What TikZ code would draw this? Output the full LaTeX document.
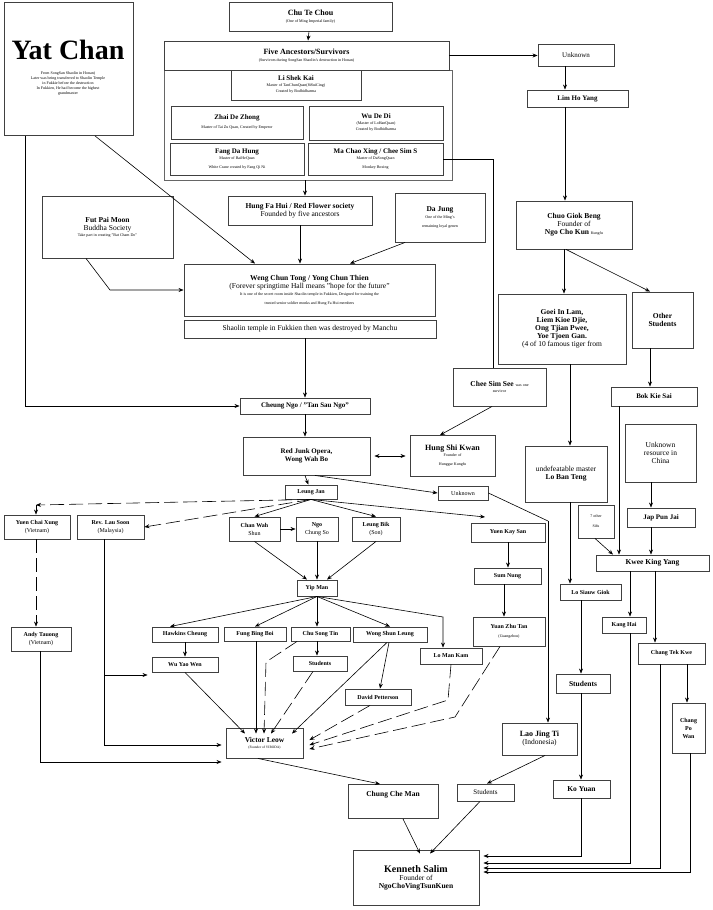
\documentclass[tikz,border=0pt]{standalone}
\usepackage{fontspec}
\setmainfont{Liberation Serif}
\usetikzlibrary{arrows.meta, positioning, calc}

\begin{document}
\begin{tikzpicture}[
        x=1pt, y=-1pt,
        font=\fontsize{7}{8}\selectfont,
        box/.style={draw=black!75, line width=0.9pt, fill=white, align=center, inner sep=1pt},
        tiny/.style={font=\fontsize{4}{5}\selectfont},
        line/.style={-{Stealth[length=5pt,width=4pt]}, line width=0.6pt},
        dline/.style={line, dash pattern=on 14pt off 5pt},
        wire/.style={line width=0.6pt}
    ]
    \useasboundingbox (0,0) rectangle (712,910);

    % Top: Yat Chan and the five ancestors
    \node[box, minimum width=129, minimum height=133, anchor=north west] (yat) at (4,2) {};
    \node at (68,50) {\fontsize{28}{30}\selectfont\bfseries Yat Chan};
    \node[tiny, align=center] (yattxt) at (68,84) {From SongSan Shaolin in Honan)\\Later was being transferred to Shaolin Temple\\in Fukkie before the destruction\\In Fukkien, He had become the highest\\grandmaster};

    \node[box, minimum width=163, minimum height=29] (chu) at (310.5,16.5) {\textbf{\fontsize{8}{9}\selectfont Chu Te Chou}\\[-1pt]{\fontsize{4}{5}\selectfont (One of Ming Imperial family)}};
    \draw[draw=black!60, line width=0.9pt] (164,70) rectangle (452,180);
    \node[box, minimum width=285, minimum height=29] (five) at (306.5,55.5) {\textbf{\fontsize{8}{9}\selectfont Five Ancestors/Survivors}\\[-1pt]{\fontsize{4}{5}\selectfont (Survivors during SongSan Shaolin's destruction in Honan)}};
    \node[box, minimum width=130, minimum height=30] (li) at (296,85) {\textbf{Li Shek Kai}\\[-2pt]{\fontsize{4}{5}\selectfont Master of TanChunQuan(8iSuiCing)}\\[-2pt]{\fontsize{4}{5}\selectfont Created by Bodhidharma}};
    \node[box, minimum width=132, minimum height=33] (zhai) at (237,122.5) {\textbf{Zhai De Zhong}\\[1pt]{\fontsize{4}{5}\selectfont Master of Tai Zu Quan, Created by Emperor}};
    \node[box, minimum width=134, minimum height=34] (wu) at (376,123) {\textbf{Wu De Di}\\[-2pt]{\fontsize{4}{5}\selectfont (Master of LoHanQuan)}\\[-2pt]{\fontsize{4}{5}\selectfont Created by Bodhidharma}};
    \node[box, minimum width=134, minimum height=32] (fang) at (237,159) {\textbf{Fang Da Hung}\\[-2pt]{\fontsize{4}{5}\selectfont Master of BaiHeQuan}\\[1pt]{\fontsize{4}{5}\selectfont White Crane created by Fang Qi Ni}};
    \node[box, minimum width=135, minimum height=32] (ma) at (375.5,159) {\textbf{Ma Chao Xing / Chee Sim S}\\[-2pt]{\fontsize{4}{5}\selectfont Master of DaSongQuan}\\[1pt]{\fontsize{4}{5}\selectfont Monkey Boxing}};

    % Middle: societies and the hall
    \node[box, minimum width=144, minimum height=29] (hung) at (300,210.5) {\textbf{\fontsize{7.5}{9}\selectfont Hung Fa Hui / Red Flower society}\\\fontsize{7.5}{9}\selectfont Founded by five ancestors};
    \node[box, minimum width=90, minimum height=49] (dajung) at (440,217.5) {\textbf{\fontsize{7.5}{9}\selectfont Da Jung}\\[-1pt]{\fontsize{4}{5}\selectfont One of the Ming's}\\[1pt]{\fontsize{4}{5}\selectfont remaining loyal genen}};
    \node[box, minimum width=131, minimum height=62] (fut) at (107.5,227) {\textbf{\fontsize{7.5}{9}\selectfont Fut Pai Moon}\\\fontsize{7.5}{9}\selectfont Buddha Society\\[-2pt]{\fontsize{4}{5}\selectfont Take part in creating "Bat Cham Do"}};
    \node[box, minimum width=251, minimum height=52] (weng) at (309.5,290) {\textbf{\fontsize{7.5}{9}\selectfont Weng Chun Tong / Yong Chun Thien}\\\fontsize{7.5}{9}\selectfont (Forever springtime Hall means "hope for the future"\\[-1pt]{\fontsize{4}{5}\selectfont It is one of the secret room inside Shaolin temple in Fukkien, Designed for training the}\\[1pt]{\fontsize{4}{5}\selectfont trusted senior soldier monks and Hung Fa Hui members}};
    \node[box, minimum width=252, minimum height=18] (shao) at (310,329) {\fontsize{7.5}{9}\selectfont Shaolin temple in Fukkien then was destroyed by Manchu};
    \node[box, minimum width=130, minimum height=16] (cheung) at (305,406) {\textbf{Cheung Ngo / "Tan Sau Ngo"}};
    \node[box, minimum width=93, minimum height=38] (chee) at (499.5,387) {\textbf{\fontsize{7.5}{9}\selectfont Chee Sim See} {\fontsize{4}{5}\selectfont was one}\\[-2pt]{\fontsize{4}{5}\selectfont survivor}};
    \node[box, minimum width=127, minimum height=38] (red) at (306.5,456) {\textbf{Red Junk Opera,}\\\textbf{Wong Wah Bo}};
    \node[box, minimum width=85, minimum height=41] (hsk) at (452.5,456) {\textbf{\fontsize{8}{9}\selectfont Hung Shi Kwan}\\[-2pt]{\fontsize{4}{5}\selectfont Founder of}\\[1pt]{\fontsize{4}{5}\selectfont Hunggar Kungfu}};

    % Right column
    \node[box, minimum width=76, minimum height=22] (unk1) at (576,55) {Unknown};
    \node[box, minimum width=101, minimum height=17] (lim) at (577.5,98.5) {\textbf{Lim Ho Yang}};
    \node[box, minimum width=116, minimum height=48] (chuo) at (574,225) {\textbf{\fontsize{7.5}{9}\selectfont Chuo Giok Beng}\\\fontsize{7.5}{9}\selectfont Founder of\\\textbf{\fontsize{7.5}{9}\selectfont Ngo Cho Kun} {\fontsize{4}{5}\selectfont Kungfu}};
    \node[box, minimum width=128, minimum height=70] (goei) at (562,329) {\bfseries\fontsize{7.5}{9}\selectfont Goei In Lam,\\\bfseries\fontsize{7.5}{9}\selectfont Liem Kioe Djie,\\\bfseries\fontsize{7.5}{9}\selectfont Ong Tjian Pwee,\\\bfseries\fontsize{7.5}{9}\selectfont Yoe Tjoen Gan.\\\fontsize{7.5}{9}\selectfont (4 of 10 famous tiger from};
    \node[box, minimum width=61, minimum height=56] (other) at (662.5,320) {\textbf{\fontsize{7.5}{9}\selectfont Other}\\\textbf{\fontsize{7.5}{9}\selectfont Students}};
    \node[box, minimum width=86, minimum height=19] (bok) at (654,396.5) {\textbf{Bok Kie Sai}};
    \node[box, minimum width=71, minimum height=58] (unkres) at (660.5,453) {\fontsize{7.5}{9}\selectfont Unknown\\\fontsize{7.5}{9}\selectfont resource in\\\fontsize{7.5}{9}\selectfont China};
    \node[box, minimum width=82, minimum height=56] (loban) at (566,474) {\fontsize{7.5}{9}\selectfont undefeatable master\\\textbf{\fontsize{7.5}{9}\selectfont Lo Ban Teng}};
    \node[box, minimum width=36, minimum height=33] (sifu) at (596,521.5) {\fontsize{4}{5}\selectfont 7 other\\[2pt]\fontsize{4}{5}\selectfont Sifu};
    \node[box, minimum width=68, minimum height=19] (jap) at (661,517.5) {\textbf{Jap Pun Jai}};
    \node[box, minimum width=113, minimum height=16] (kwee) at (652.5,563) {\textbf{\fontsize{7.5}{9}\selectfont Kwee King Yang}};
    \node[box, minimum width=61, minimum height=16] (losiauw) at (590.5,592) {\textbf{\fontsize{6}{7}\selectfont Lo Siauw Giok}};
    \node[box, minimum width=44, minimum height=16] (kang) at (624,625) {\textbf{\fontsize{6}{7}\selectfont Kang Hai}};
    \node[box, minimum width=67, minimum height=21] (tek) at (671.5,653.5) {\textbf{\fontsize{6}{7}\selectfont Chang Tek Kwe}};
    \node[box, minimum width=54, minimum height=19] (stud3) at (583,683.5) {\textbf{\fontsize{7.5}{9}\selectfont Students}};
    \node[box, minimum width=33, minimum height=50] (powan) at (688.5,728) {\bfseries\fontsize{6}{8}\selectfont Chang\\\bfseries\fontsize{6}{8}\selectfont Po\\\bfseries\fontsize{6}{8}\selectfont Wan};
    \node[box, minimum width=57, minimum height=18] (koyuan) at (581.5,789) {\textbf{\fontsize{7.5}{9}\selectfont Ko Yuan}};

    % Lower tree
    \node[box, minimum width=52, minimum height=14] (leung) at (311,492) {\textbf{\fontsize{6}{7}\selectfont Leung Jan}};
    \node[box, minimum width=50, minimum height=14] (unk2) at (463,493) {\fontsize{6}{7}\selectfont Unknown};
    \node[box, minimum width=66, minimum height=24] (ycx) at (37,527) {\textbf{\fontsize{6}{7}\selectfont Yuen Chai Xung}\\\fontsize{6}{7}\selectfont (Vietnam)};
    \node[box, minimum width=67, minimum height=24] (lau) at (110.5,527) {\textbf{\fontsize{6}{7}\selectfont Rev. Lau Soon}\\\fontsize{6}{7}\selectfont (Malaysia)};
    \node[box, minimum width=51, minimum height=24] (chan) at (254.5,529) {\textbf{\fontsize{6}{7}\selectfont Chan Wah}\\\fontsize{6}{7}\selectfont Shun};
    \node[box, minimum width=42, minimum height=24] (ngo) at (317,529) {\textbf{\fontsize{6}{7}\selectfont Ngo}\\\fontsize{6}{7}\selectfont Chung So};
    \node[box, minimum width=48, minimum height=24] (bik) at (376,529) {\textbf{\fontsize{6}{7}\selectfont Leung Bik}\\\fontsize{6}{7}\selectfont (Son)};
    \node[box, minimum width=74, minimum height=19] (kay) at (508,532.5) {\textbf{\fontsize{6}{7}\selectfont Yuen Kay San}};
    \node[box, minimum width=67, minimum height=16] (sum) at (507.5,576) {\textbf{\fontsize{6}{7}\selectfont Sum Nung}};
    \node[box, minimum width=40, minimum height=16] (yip) at (317,588) {\textbf{\fontsize{6}{7}\selectfont Yip Man}};
    \node[box, minimum width=66, minimum height=15] (hawk) at (185,634.5) {\textbf{\fontsize{6}{7}\selectfont Hawkins Cheung}};
    \node[box, minimum width=62, minimum height=14] (fung) at (255,634) {\textbf{\fontsize{6}{7}\selectfont Fung Bing Boi}};
    \node[box, minimum width=59, minimum height=14] (csong) at (320.5,634) {\textbf{\fontsize{6}{7}\selectfont Chu Song Tin}};
    \node[box, minimum width=74, minimum height=15] (wong) at (390,634.5) {\textbf{\fontsize{6}{7}\selectfont Wong Shun Leung}};
    \node[box, minimum width=72, minimum height=29] (yuan) at (509,631.5) {\textbf{\fontsize{6}{7}\selectfont Yuan Zhu Tan}\\[1pt]{\fontsize{4}{5}\selectfont (Guangzhou)}};
    \node[box, minimum width=62, minimum height=16] (loman) at (451,656) {\textbf{\fontsize{6}{7}\selectfont Lo Man Kam}};
    \node[box, minimum width=66, minimum height=15] (wuyao) at (185,664.5) {\textbf{\fontsize{6}{7}\selectfont Wu Yao Wen}};
    \node[box, minimum width=54, minimum height=15] (stud1) at (320,663.5) {\textbf{\fontsize{6}{7}\selectfont Students}};
    \node[box, minimum width=66, minimum height=16] (david) at (378,697) {\textbf{\fontsize{6}{7}\selectfont David Petterson}};
    \node[box, minimum width=60, minimum height=24] (andy) at (41,639) {\textbf{\fontsize{6}{7}\selectfont Andy Tauong}\\\fontsize{6}{7}\selectfont (Vietnam)};
    \node[box, minimum width=77, minimum height=30] (victor) at (264.5,743) {\textbf{\fontsize{7.5}{9}\selectfont Victor Leow}\\[-2pt]{\fontsize{3.5}{4}\selectfont (Founder of VIRODA)}};
    \node[box, minimum width=75, minimum height=32] (lao) at (539.5,739) {\textbf{\fontsize{8}{9}\selectfont Lao Jing Ti}\\\fontsize{7.5}{9}\selectfont (Indonesia)};
    \node[box, minimum width=90, minimum height=34, anchor=north] (ccm) at (393,784) {\textbf{\fontsize{7.5}{9}\selectfont Chung Che Man}\\[8pt]};
    \node[box, minimum width=57, minimum height=17] (stud2) at (485.5,792.5) {\fontsize{7}{8}\selectfont Students};
    \node[box, minimum width=126, minimum height=55] (ken) at (416,877.5) {\textbf{\fontsize{10}{12}\selectfont Kenneth Salim}\\\fontsize{7.5}{9}\selectfont Founder of\\\textbf{\fontsize{7.5}{9}\selectfont NgoChoVingTsunKuen}};

    % Arrows: top part
    \draw[line] (chu) -- (five);
    \draw[line] (305,180) -- (hung.north -| 305,0);
    \draw[line] (five.east) -- (unk1.west |- five.east);
    \draw[line] (unk1.south -| 565,0) -- (lim.north -| 565,0);
    \draw[line] (lim.south -| 565,0) -- (chuo.north -| 565,0);
    \draw[wire] (ma.east) -| (chee.north -| 493,0);
    \draw[line] (yat.south -| 95,0) -- (weng.north -| 255,0);
    \draw[line] (yat.south -| 25,0) |- (cheung.west);
    \draw[line] (fut.south -| 86,0) -- (110,290) -- (weng.west);
    \draw[line] (hung) -- (weng.north -| 300,0);
    \draw[line] (dajung.south -| 405,0) -- (weng.north -| 350,0);
    \draw[line] (shao.south -| 305,0) -- (cheung.north -| 305,0);
    \draw[line] (cheung) -- (red.north -| 305,0);
    \draw[line] (chee.south -| 492,0) -- (hsk.north -| 440,0);
    \draw[{Stealth[length=5pt,width=4pt]}-{Stealth[length=5pt,width=4pt]}, line width=0.6pt] ([xshift=4]red.east) -- ([xshift=-4]hsk.west);
    \draw[line] (red.south -| 305,0) -- (leung);
    \draw[line] (red.south -| 315,0) -- (unk2.west);
    \draw[wire] (unk2.east) -- (548,521) coordinate (bend);
    \draw[line] (bend) -- (lao.north -| 548,0);

    % Arrows: right column
    \draw[line] (chuo.south -| 564,0) -- (goei.north -| 564,0);
    \draw[line] (chuo.south -| 566,0) -- (other.north -| 650,0);
    \draw[line] (other.south -| 650,0) -- (bok.north -| 650,0);
    \draw[line] (goei.south -| 570,0) -- (loban.north -| 570,0);
    \draw[line] (loban.south -| 570,0) -- (losiauw.north -| 570,0);
    \draw[line] (bok.south -| 619,0) -- (kwee.north -| 619,0);
    \draw[line] (unkres.south -| 651,0) -- (jap.north -| 651,0);
    \draw[line] (jap.south -| 651,0) -- (kwee.north -| 651,0);
    \draw[line] (sifu.south -| 595,0) -- ([xshift=-2]kwee.north -| 615,0);
    \draw[line] (kwee.south -| 630,0) -- (kang.north -| 630,0);
    \draw[line] (kwee.south -| 655,0) -- (tek.north -| 655,0);
    \draw[line] (tek.south -| 687,0) -- (powan.north -| 687,0);
    \draw[line] (losiauw.south -| 581,0) -- (stud3.north -| 581,0);
    \draw[line] (stud3.south -| 581,0) -- (koyuan.north -| 581,0);
    \draw[line] (koyuan.south -| 581,0) |- ([xshift=4]ken.east |- 0,856);
    \draw[line] (kang.south -| 630,0) |- ([xshift=4]ken.east |- 0,863);
    \draw[line] (tek.south -| 660,0) |- ([xshift=4]ken.east |- 0,868);
    \draw[line] (powan.south -| 690,0) |- ([xshift=4]ken.east |- 0,872);

    % Arrows: Leung Jan's line
    \draw[dline] (leung.south) -- (36,505) coordinate (ycxtop);
    \draw[line] (ycxtop) -- (ycx.north -| 36,0);
    \draw[dline] (leung.south) -- (lau.east);
    \draw[line] (leung.south) -- (chan.north);
    \draw[line] (leung.south) -- (bik.north);
    \draw[line] (leung.south) -- (485,517);
    \draw[line] (chan) -- (ngo);
    \draw[line] (chan.south) -- (yip.north -| 307,0);
    \draw[line] (ngo) -- (yip);
    \draw[line] (bik.south) -- (yip.north -| 327,0);
    \draw[line] (kay.south -| 508,0) -- (sum.north -| 508,0);
    \draw[line] (sum.south -| 504,0) -- (yuan.north -| 504,0);
    \draw[dline] (ycx.south -| 36,0) -- (andy.north -| 36,0);
    \draw[line] (andy.south -| 40,0) |- ([xshift=-4]victor.west |- 0,762);
    \draw[line] (lau.south -| 104,0) |- ([xshift=-4]victor.west |- 0,745);
    \draw[line] (104,675) -- ([xshift=-4]wuyao.west |- 0,675);

    % Arrows: Yip Man's students
    \draw[line] (yip.south) -- (hawk.north -| 170,0);
    \draw[line] (yip.south) -- (fung.north);
    \draw[line] (yip.south) -- (csong.north -| 317,0);
    \draw[line] (yip.south) -- (wong.north);
    \draw[line] (yip.south) -- (443,617) -- (loman.north -| 443,0);
    \draw[line] (hawk) -- (wuyao);
    \draw[line] (csong.south -| 317,0) -- (stud1.north -| 317,0);
    \draw[line] (wong.south -| 389,0) -- (david.north -| 380,0);
    \draw[line] (wuyao.south) -- ([yshift=-6]victor.north -| 245,0);
    \draw[line] (fung.south -| 256,0) -- ([yshift=-6]victor.north -| 256,0);
    \draw[dline] (csong.south -| 297,0) -- (266,662) -- ([yshift=-6]victor.north -| 264,0);
    \draw[dline] (stud1.south -| 313,0) -- ([yshift=-6]victor.north -| 271,0);
    \draw[line] (wong.south -| 387,0) -- ([yshift=-6]victor.north -| 292,0);
    \draw[dline] (david.south -| 370,0) -- ([xshift=6]victor.east |- 0,740);
    \draw[dline] (loman.south -| 451,0) -- (448,700) -- ([xshift=6]victor.east |- 0,745);
    \draw[dline] (yuan.south -| 500,0) -- (455,717) -- ([xshift=6]victor.east |- 0,749);
    \draw[line] (victor.south -| 258,0) -- (ccm.north -| 380,0);
    \draw[line] (lao.south -| 545,0) -- (stud2.north -| 487,0);
    \draw[line] (ccm.south -| 403,0) -- ([yshift=-4]ken.north -| 420,0);
    \draw[line] (stud2.south -| 480,0) -- ([yshift=-4]ken.north -| 430,0);
\end{tikzpicture}
\end{document}
